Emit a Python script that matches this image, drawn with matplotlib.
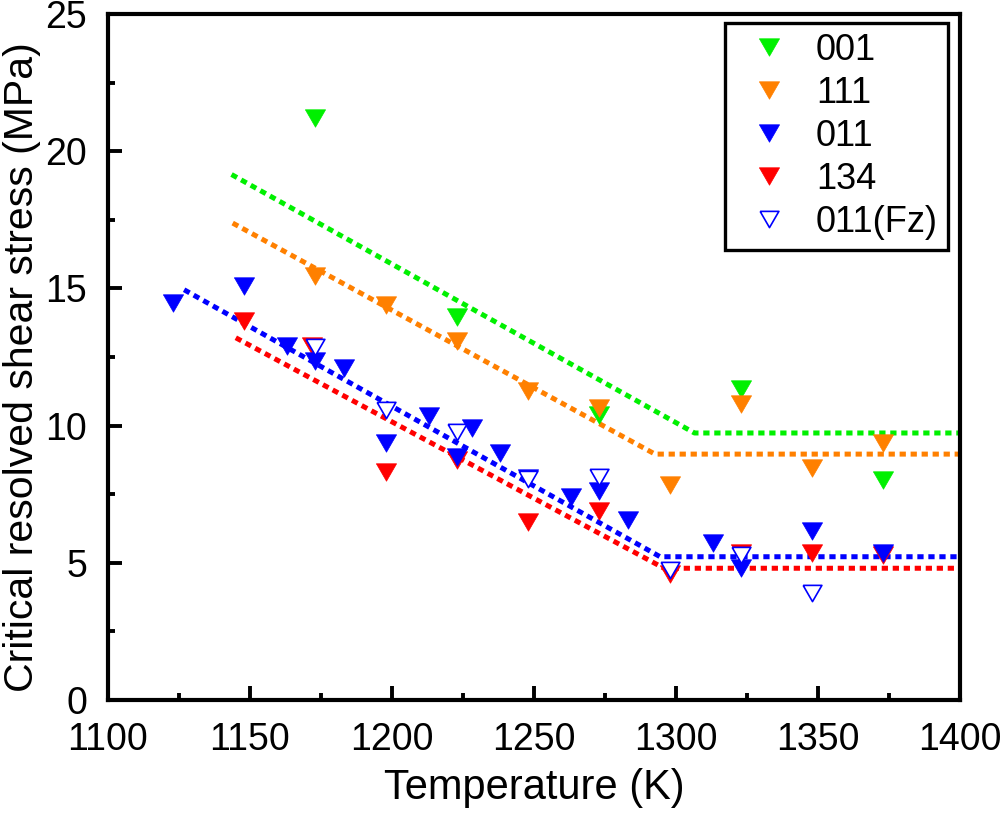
import matplotlib
matplotlib.use("Agg")
import matplotlib.pyplot as plt
from matplotlib.ticker import MultipleLocator
from matplotlib.lines import Line2D

plt.rcParams['font.family'] = ['Liberation Sans', 'DejaVu Sans']

# ---- data ----
t_001 = [1173, 1223, 1273, 1323, 1373]
s_001 = [21.2, 13.95, 10.4, 11.35, 8.0]

t_111 = [1173, 1198, 1223, 1248, 1273, 1298, 1323, 1348, 1373]
s_111 = [15.45, 14.4, 13.1, 11.25, 10.65, 7.85, 10.8, 8.45, 9.35]

t_011 = [1123, 1148, 1163, 1173, 1183, 1198, 1213, 1223, 1228, 1238,
         1248, 1263, 1273, 1283, 1313, 1323, 1348, 1373]
s_011 = [14.45, 15.1, 12.9, 12.35, 12.1, 9.35, 10.35, 8.85, 9.9, 9.0,
         8.1, 7.4, 7.6, 6.55, 5.72, 4.8, 6.15, 5.35]

t_134 = [1148, 1172, 1198, 1223, 1248, 1273, 1298, 1323, 1348, 1373]
s_134 = [13.8, 12.9, 8.3, 8.75, 6.5, 6.9, 4.6, 5.35, 5.35, 5.3]

t_fz = [1173, 1198, 1223, 1248, 1273, 1298, 1323, 1348]
s_fz = [12.85, 10.55, 9.77, 8.05, 8.13, 4.75, 5.3, 3.9]

# fitted dotted lines (start, kink, end)
fit_001_t = [1143.5, 1306.5, 1400]
fit_001_s = [19.15, 9.73, 9.73]
fit_111_t = [1143.9, 1292.6, 1400]
fit_111_s = [17.38, 8.96, 8.96]
fit_011_t = [1126.8, 1294.4, 1400]
fit_011_s = [14.95, 5.22, 5.22]
fit_134_t = [1145.0, 1295.8, 1400]
fit_134_s = [13.2, 4.8, 4.8]

labels = ['001', '111', '011', '134', '011(Fz)']
colors = ['#00F000', '#FF8000', '#0000FF', '#FF0000', '#0000FF']

tri = [(-1, 0.866), (1, 0.866), (0, -0.866), (-1, 0.866)]
MS = 14.5

fig = plt.figure(figsize=(10, 8.18), dpi=100)
ax = fig.add_axes([0.108, 0.1443, 0.852, 0.8386])

dash = (1.25, 0.95)
lw = 3.6
for ft, fs, c in [(fit_001_t, fit_001_s, colors[0]), (fit_111_t, fit_111_s, colors[1]),
                  (fit_011_t, fit_011_s, colors[2]), (fit_134_t, fit_134_s, colors[3])]:
    ax.plot(ft, fs, color=c, lw=lw, dashes=dash, dash_capstyle='butt', zorder=2)

ax.plot(t_001, s_001, ls='none', marker=tri, ms=MS, mfc=colors[0], mec=colors[0], mew=0.5, zorder=3)
ax.plot(t_111, s_111, ls='none', marker=tri, ms=MS, mfc=colors[1], mec=colors[1], mew=0.5, zorder=4)
ax.plot(t_134, s_134, ls='none', marker=tri, ms=MS, mfc=colors[3], mec=colors[3], mew=0.5, zorder=5)
ax.plot(t_011, s_011, ls='none', marker=tri, ms=MS, mfc=colors[2], mec=colors[2], mew=0.5, zorder=6)
ax.plot(t_fz, s_fz, ls='none', marker=tri, ms=MS - 1, mfc='white', mec=colors[4], mew=1.2, zorder=7)

ax.set_xlim(1100, 1400)
ax.set_ylim(0, 25)
ax.xaxis.set_major_locator(MultipleLocator(50))
ax.xaxis.set_minor_locator(MultipleLocator(25))
ax.yaxis.set_major_locator(MultipleLocator(5))
ax.yaxis.set_minor_locator(MultipleLocator(2.5))
ax.tick_params(which='both', direction='in', top=False, right=False, width=2.8, labelsize=27)
ax.tick_params(which='major', length=10)
ax.tick_params(which='minor', length=5)
ax.tick_params(axis='x', pad=16)
ax.tick_params(axis='y', pad=15)
for sp in ax.spines.values():
    sp.set_linewidth(3)

ax.set_xlabel('Temperature (K)', fontsize=30, labelpad=7)
ax.set_ylabel('Critical resolved shear stress (MPa)', fontsize=29.5, labelpad=6)
ax.yaxis.set_label_coords(-0.079, 0.485)

handles = []
for lab, c in zip(labels, colors):
    if lab == '011(Fz)':
        h = Line2D([], [], ls='none', marker=tri, ms=MS - 1, mfc='white', mec=c, mew=1.2)
    else:
        h = Line2D([], [], ls='none', marker=tri, ms=MS, mfc=c, mec=c, mew=0.5)
    handles.append(h)
leg = ax.legend(handles, labels, loc='upper right', bbox_to_anchor=(0.986, 0.987),
                borderaxespad=0, fontsize=26, frameon=True, fancybox=False,
                edgecolor='black', framealpha=1, borderpad=0.28, handlelength=1.88,
                handletextpad=0.36, labelspacing=0.22, numpoints=1)
leg.get_frame().set_linewidth(2.4)

fig.savefig('out.png', dpi=100)
